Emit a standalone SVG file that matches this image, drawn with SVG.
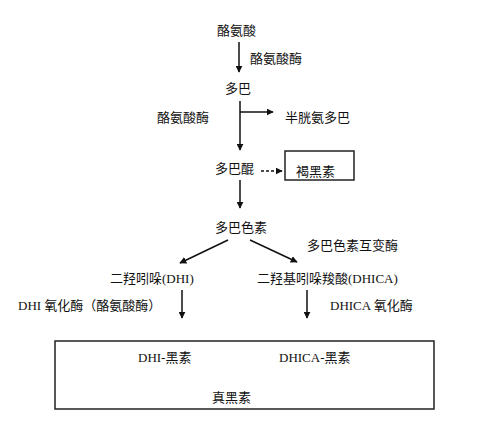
<svg xmlns="http://www.w3.org/2000/svg" width="478" height="426" viewBox="0 0 478 426">
<defs>
<marker id="ah" viewBox="0 0 10 10" refX="9" refY="5" markerWidth="7" markerHeight="7" markerUnits="userSpaceOnUse" orient="auto">
<path d="M0,0 L10,5 L0,10 z" fill="#111"/>
</marker>
<style>
text{font-family:"Liberation Serif","Noto Sans CJK SC",serif;font-size:13px;fill:#111}
.ln{stroke:#111;stroke-width:1.5;fill:none}
.box{stroke:#222;stroke-width:1.5;fill:#fff}
</style>
</defs>
<rect width="478" height="426" fill="#fff"/>
<g id="connectors">
<line class="ln" x1="239" y1="42" x2="239" y2="72" marker-end="url(#ah)"/>
<line class="ln" x1="240" y1="101" x2="240" y2="150" marker-end="url(#ah)"/>
<line class="ln" x1="240" y1="112" x2="273" y2="112" marker-end="url(#ah)"/>
<line class="ln" x1="261" y1="171" x2="282" y2="171" stroke-dasharray="3,2" marker-end="url(#ah)"/>
<line class="ln" x1="240" y1="180" x2="240" y2="208" marker-end="url(#ah)"/>
<line class="ln" x1="228" y1="240" x2="180" y2="263" marker-end="url(#ah)"/>
<line class="ln" x1="250" y1="240" x2="297" y2="262" marker-end="url(#ah)"/>
<line class="ln" x1="182" y1="290" x2="182" y2="318" marker-end="url(#ah)"/>
<line class="ln" x1="307" y1="290" x2="307" y2="318" marker-end="url(#ah)"/>
</g>
<g id="tyrosine"><text x="217" y="35">酪氨酸</text></g>
<g id="label-tyrosinase1"><text x="250" y="63">酪氨酸酶</text></g>
<g id="dopa"><text x="225" y="93">多巴</text></g>
<g id="label-tyrosinase2"><text x="157" y="122">酪氨酸酶</text></g>
<g id="cysteinyldopa"><text x="285" y="122">半胱氨多巴</text></g>
<g id="dopaquinone"><text x="215" y="173">多巴醌</text></g>
<g id="pheomelanin"><rect class="box" x="285" y="151" width="69" height="29"/><text x="296" y="176">褐黑素</text></g>
<g id="dopachrome"><text x="215" y="232">多巴色素</text></g>
<g id="label-tautomerase"><text x="307" y="250">多巴色素互变酶</text></g>
<g id="dhi"><text x="110" y="283">二羟吲哚(DHI)</text></g>
<g id="dhica"><text x="257" y="283">二羟基吲哚羧酸(DHICA)</text></g>
<g id="label-dhi-oxidase"><text x="18" y="310">DHI 氧化酶（酪氨酸酶）</text></g>
<g id="label-dhica-oxidase"><text x="330" y="310">DHICA 氧化酶</text></g>
<g id="eumelanin"><rect class="box" x="55" y="341" width="379" height="68"/>
<text x="138" y="362">DHI-黑素</text>
<text x="279" y="362">DHICA-黑素</text>
<text x="212" y="402">真黑素</text></g>
</svg>
